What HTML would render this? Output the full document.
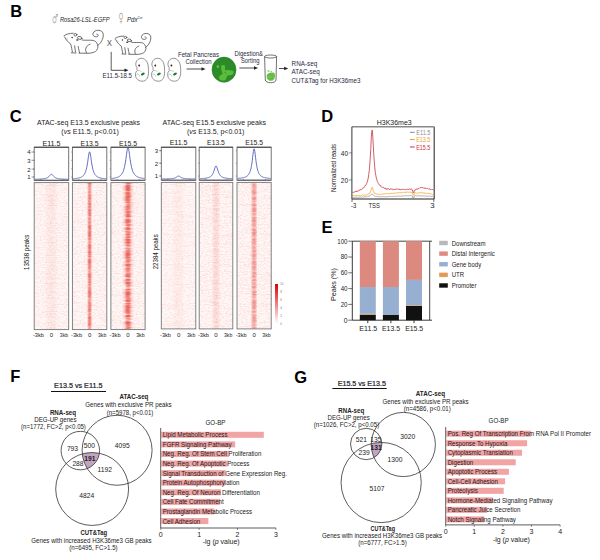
<!DOCTYPE html>
<html><head><meta charset="utf-8"><title>Figure</title>
<style>
html,body{margin:0;padding:0;background:#fff;}
body{width:600px;height:560px;overflow:hidden;}
svg{display:block;font-family:'Liberation Sans', Arial, sans-serif;}
</style></head><body>
<svg width="600" height="560" viewBox="0 0 600 560">
<rect width="600" height="560" fill="#fff"/>
<text x="10.3" y="17.2" font-size="16.5" font-weight="bold" fill="#000">B</text>
<text x="9.8" y="122.2" font-size="16.5" font-weight="bold" fill="#000">C</text>
<text x="321.2" y="122.2" font-size="16.5" font-weight="bold" fill="#000">D</text>
<text x="321.5" y="233.3" font-size="16.5" font-weight="bold" fill="#000">E</text>
<text x="10.2" y="382.4" font-size="16.5" font-weight="bold" fill="#000">F</text>
<text x="294.2" y="382.8" font-size="16.5" font-weight="bold" fill="#000">G</text>
<text transform="translate(51.9,22.6) scale(0.62,1.15)" font-family="'DejaVu Sans', sans-serif" font-size="11" fill="#aaa">♂</text>
<text x="59.9" y="22.4" font-size="8" font-style="italic" textLength="49.6" lengthAdjust="spacingAndGlyphs" fill="#222">Rosa26-LSL-EGFP</text>
<text transform="translate(118.6,22.1) scale(0.62,1.15)" font-family="'DejaVu Sans', sans-serif" font-size="11" fill="#aaa">♀</text>
<text x="127" y="22.4" font-size="8" font-style="italic" textLength="10.5" lengthAdjust="spacingAndGlyphs" fill="#222">Pdx</text>
<text x="137.6" y="19.2" font-size="4" font-style="italic" textLength="5" lengthAdjust="spacingAndGlyphs" fill="#222">Cre</text>
<g transform="translate(0,0) scale(1)" fill="none" stroke="#3c3c3c" stroke-width="0.72" stroke-linecap="round" stroke-linejoin="round">
<path d="M64,35.8 C66,34.2 69,33.3 73.3,33.2 M64.6,37 C66,40 68.5,42.5 70.8,44.2 C71.5,47 72,50 72.4,52 L71.4,52.8 L76,53 M74.6,45.8 C75,48 75.2,50 75.5,52 M82.1,40 C85,40.6 89,39.9 93.3,40.4 C96,41 97.6,43.5 97.9,46.7 C97.9,49 96.5,51.5 93.3,52.5 C91,53.2 89,53.3 86.5,53.3 L79,53.1 M86.6,53 C84.6,50 85.4,45.8 90,44.2 M78.2,46.5 C78.6,49 79,51 79.6,52.8 M97.9,45.4 C101,43 103.5,39 103.3,34.2 C103,31 99.5,29.8 96.7,30.4 C94,31 92.7,33 92.9,34.6 C93.2,36.5 96,37.5 97.5,36.5 C98.8,35.5 98,33.8 96.8,34 "/>
<ellipse cx="75.4" cy="34.7" rx="1.5" ry="1.2"/><ellipse cx="79.7" cy="37.9" rx="2.3" ry="1.4" transform="rotate(15 79.7 37.9)"/>
<circle cx="72.1" cy="37.5" r="0.75" fill="#222" stroke="none"/>
<ellipse cx="77.3" cy="40" rx="1.2" ry="0.8" fill="#333" stroke="none"/>
<path d="M66,38.5 L67.5,38.8 M66.3,40 L67.6,39.8" stroke="#999" stroke-width="0.4"/>
</g>
<g transform="translate(56.85999999999999,5.8969999999999985) scale(0.91)" fill="none" stroke="#3c3c3c" stroke-width="0.79" stroke-linecap="round" stroke-linejoin="round">
<path d="M64,35.8 C66,34.2 69,33.3 73.3,33.2 M64.6,37 C66,40 68.5,42.5 70.8,44.2 C71.5,47 72,50 72.4,52 L71.4,52.8 L76,53 M74.6,45.8 C75,48 75.2,50 75.5,52 M82.1,40 C85,40.6 89,39.9 93.3,40.4 C96,41 97.6,43.5 97.9,46.7 C97.9,49 96.5,51.5 93.3,52.5 C91,53.2 89,53.3 86.5,53.3 L79,53.1 M86.6,53 C84.6,50 85.4,45.8 90,44.2 M78.2,46.5 C78.6,49 79,51 79.6,52.8 M97.9,45.4 C101,43 103.5,39 103.3,34.2 C103,31 99.5,29.8 96.7,30.4 C94,31 92.7,33 92.9,34.6 C93.2,36.5 96,37.5 97.5,36.5 C98.8,35.5 98,33.8 96.8,34 "/>
<ellipse cx="75.4" cy="34.7" rx="1.5" ry="1.2"/><ellipse cx="79.7" cy="37.9" rx="2.3" ry="1.4" transform="rotate(15 79.7 37.9)"/>
<circle cx="72.1" cy="37.5" r="0.75" fill="#222" stroke="none"/>
<ellipse cx="77.3" cy="40" rx="1.2" ry="0.8" fill="#333" stroke="none"/>
<path d="M66,38.5 L67.5,38.8 M66.3,40 L67.6,39.8" stroke="#999" stroke-width="0.4"/>
</g>
<text x="106.8" y="46.2" font-size="9.6" textLength="5.2" lengthAdjust="spacingAndGlyphs" fill="#555">X</text>
<line x1="111.2" y1="51.9" x2="111.2" y2="70.3" stroke="#333" stroke-width="0.8"/>
<line x1="111.2" y1="70.3" x2="125.5" y2="70.3" stroke="#222" stroke-width="0.8"/>
<path d="M128.5,70.3 L124.5,68.5 L124.5,72.1 Z" fill="#222"/>
<text x="102.5" y="78.3" font-size="7" textLength="29.5" lengthAdjust="spacingAndGlyphs" fill="#2a2a40">E11.5-18.5</text>
<g transform="translate(0,0)">
<path d="M137.2,67.8 C135,66 135,60.5 139.5,58.6 C144,57 148,61 148.3,67 C148.8,73 148.8,78 145,80.6 C141,82.4 136.2,80 135.6,76 C135.2,73 136,71 137.6,70.4 C136.6,69.6 136.6,68.6 137.2,67.8 Z" fill="#fff" stroke="#666" stroke-width="0.7"/>
<path d="M137.6,70.4 C139,71 140.5,70.6 141.5,71.4 M136.5,74.5 C138,73.5 139.5,74.5 139.8,76.5" fill="none" stroke="#999" stroke-width="0.5"/>
<circle cx="139.2" cy="65.5" r="0.9" fill="#222"/>
<ellipse cx="142.8" cy="74" rx="2.1" ry="1.1" transform="rotate(-30 142.8 74)" fill="#1c7a2c"/>
</g>
<g transform="translate(16.1,0)">
<path d="M137.2,67.8 C135,66 135,60.5 139.5,58.6 C144,57 148,61 148.3,67 C148.8,73 148.8,78 145,80.6 C141,82.4 136.2,80 135.6,76 C135.2,73 136,71 137.6,70.4 C136.6,69.6 136.6,68.6 137.2,67.8 Z" fill="#fff" stroke="#666" stroke-width="0.7"/>
<path d="M137.6,70.4 C139,71 140.5,70.6 141.5,71.4 M136.5,74.5 C138,73.5 139.5,74.5 139.8,76.5" fill="none" stroke="#999" stroke-width="0.5"/>
<circle cx="139.2" cy="65.5" r="0.9" fill="#222"/>
<ellipse cx="142.8" cy="74" rx="2.1" ry="1.1" transform="rotate(-30 142.8 74)" fill="#1c7a2c"/>
</g>
<g transform="translate(32.2,0)">
<path d="M137.2,67.8 C135,66 135,60.5 139.5,58.6 C144,57 148,61 148.3,67 C148.8,73 148.8,78 145,80.6 C141,82.4 136.2,80 135.6,76 C135.2,73 136,71 137.6,70.4 C136.6,69.6 136.6,68.6 137.2,67.8 Z" fill="#fff" stroke="#666" stroke-width="0.7"/>
<path d="M137.6,70.4 C139,71 140.5,70.6 141.5,71.4 M136.5,74.5 C138,73.5 139.5,74.5 139.8,76.5" fill="none" stroke="#999" stroke-width="0.5"/>
<circle cx="139.2" cy="65.5" r="0.9" fill="#222"/>
<ellipse cx="142.8" cy="74" rx="2.1" ry="1.1" transform="rotate(-30 142.8 74)" fill="#1c7a2c"/>
</g>
<text x="198.5" y="56.6" font-size="7.6" text-anchor="middle" textLength="41" lengthAdjust="spacingAndGlyphs" fill="#2a2a40">Fetal Pancreas</text>
<text x="198.5" y="63.8" font-size="7.6" text-anchor="middle" textLength="26.2" lengthAdjust="spacingAndGlyphs" fill="#2a2a40">Collection</text>
<line x1="186.6" y1="69" x2="202.5" y2="69" stroke="#222" stroke-width="0.8"/>
<path d="M205.5,69 L201.5,67.2 L201.5,70.8 Z" fill="#222"/>
<ellipse cx="224" cy="69.7" rx="12" ry="12.6" fill="#2c8a28" stroke="#23701f" stroke-width="0.5"/>
<path d="M221.3,66 C222,64.6 224.5,64.6 225,66 C225.4,67.5 224.6,69 225.2,70.3 C226.5,70 228,69.6 229.5,70.2 C231,70.5 232.5,70.2 233.6,71.5 C234,73 233,74.5 231.5,75 C230,75.6 228.5,75.2 227.2,75.6 C227,77 226.5,79 225,80.2 C223.5,81 221,80.8 219.8,79.6 C218.6,78.2 219,76.5 220,75.6 C221,74.6 222.2,74.6 222.6,73.5 C222.3,72 221.3,70.5 221.2,69 C221,68 221,67 221.3,66 Z" fill="#58bd3a"/>
<path d="M216.6,66.2 C217,64.8 218.8,64.6 219.2,65.8 C219.5,67 218.8,68.3 217.8,68.3 C216.8,68.2 216.4,67.2 216.6,66.2 Z" fill="#58bd3a"/>
<path d="M224.6,72 C225.5,71.6 226.5,72.3 226.2,73.3 C225.6,74 224.6,73.6 224.6,72 Z" fill="#3a9a30"/>
<text x="248.7" y="56.0" font-size="7.6" text-anchor="middle" textLength="28.6" lengthAdjust="spacingAndGlyphs" fill="#2a2a40">Digestion&amp;</text>
<text x="250.2" y="63.3" font-size="7.6" text-anchor="middle" textLength="18.4" lengthAdjust="spacingAndGlyphs" fill="#2a2a40">Sorting</text>
<line x1="239.4" y1="68" x2="255" y2="68" stroke="#222" stroke-width="0.8"/>
<path d="M258,68 L254,66.2 L254,69.8 Z" fill="#222"/>
<path d="M264.6,56.5 L265.3,80 C265.5,83.6 275.8,83.6 276,80 L276.6,56.5" fill="#fff" stroke="#333" stroke-width="0.7"/>
<ellipse cx="270.6" cy="56.5" rx="6" ry="1.5" fill="#fff" stroke="#333" stroke-width="0.7"/>
<path d="M267,74.5 C268.5,72.6 272,72 274.5,73 C275.5,75 275.2,78.5 273.5,80 C271.5,81.5 268.5,81 267.3,79 C266.4,77.5 266.5,75.5 267,74.5 Z" fill="#6cc24a"/>
<path d="M268.5,75 C270,74 272,74.5 273,76 M269,78.5 C270.5,79 272,78.6 273,77.6" stroke="#4e9f32" stroke-width="0.5" fill="none"/>
<rect x="267.6" y="70.4" width="1.8" height="1.3" fill="#6cc24a"/><rect x="270.5" y="71.2" width="1.4" height="1" fill="#6cc24a"/>
<line x1="279" y1="68.5" x2="285.2" y2="68.5" stroke="#222" stroke-width="0.8"/>
<path d="M288.2,68.5 L284.2,66.7 L284.2,70.3 Z" fill="#222"/>
<text x="291.6" y="65.6" font-size="7" textLength="25.56" lengthAdjust="spacingAndGlyphs" fill="#2a2a40">RNA-seq</text>
<text x="291.6" y="74.2" font-size="7" textLength="28.12" lengthAdjust="spacingAndGlyphs" fill="#2a2a40">ATAC-seq</text>
<text x="291.6" y="83.0" font-size="7" textLength="68.8" lengthAdjust="spacingAndGlyphs" fill="#2a2a40">CUT&amp;Tag for H3K36me3</text>
<defs>
<filter id="nz" x="0" y="0" width="100%" height="100%">
 <feTurbulence type="fractalNoise" baseFrequency="0.5 0.9" numOctaves="1" seed="3" result="n"/>
 <feColorMatrix type="matrix" values="0 0 0 0 0.93  0 0 0 0 0.42  0 0 0 0 0.4  0 0 0 -3.6 1.95"/>
</filter>
<filter id="nz2" x="0" y="0" width="100%" height="100%">
 <feTurbulence type="fractalNoise" baseFrequency="0.05 0.7" numOctaves="2" seed="5" result="n"/>
 <feColorMatrix type="matrix" values="0 0 0 0 0.93  0 0 0 0 0.45  0 0 0 0 0.43  0 0 0 -3.0 1.55"/>
</filter>
<filter id="bandf" x="0" y="0" width="100%" height="100%">
 <feTurbulence type="fractalNoise" baseFrequency="0.06 0.45" numOctaves="2" seed="11" result="n"/>
 <feColorMatrix in="n" type="matrix" values="0 0 0 0 0  0 0 0 0 0  0 0 0 0 0  0 0 0 3.0 -0.9" result="m"/>
 <feComposite in="SourceGraphic" in2="m" operator="in"/>
</filter>
<linearGradient id="cb" x1="0" y1="0" x2="0" y2="1"><stop offset="0" stop-color="#e00000"/><stop offset="1" stop-color="#fff"/></linearGradient>
</defs>
<text x="37" y="124.8" font-size="7.8" textLength="103" lengthAdjust="spacingAndGlyphs" fill="#222">ATAC-seq E13.5 exclusive peaks</text>
<text x="61.3" y="133.5" font-size="7.7" fill="#222" textLength="57.5" lengthAdjust="spacingAndGlyphs">(<tspan font-style="italic">vs</tspan> E11.5, p&lt;0.01)</text>
<text x="162.6" y="125.0" font-size="7.8" textLength="103.4" lengthAdjust="spacingAndGlyphs" fill="#222">ATAC-seq E15.5 exclusive peaks</text>
<text x="187" y="134" font-size="7.7" fill="#222" textLength="57.4" lengthAdjust="spacingAndGlyphs">(<tspan font-style="italic">vs</tspan> E13.5, p&lt;0.01)</text>
<text x="51.45" y="145.5" font-size="7.8" text-anchor="middle" textLength="18" lengthAdjust="spacingAndGlyphs" fill="#222">E11.5</text>
<text x="89.6" y="145.5" font-size="7.8" text-anchor="middle" textLength="18" lengthAdjust="spacingAndGlyphs" fill="#222">E13.5</text>
<text x="128.0" y="145.5" font-size="7.8" text-anchor="middle" textLength="18" lengthAdjust="spacingAndGlyphs" fill="#222">E15.5</text>
<text x="178.55" y="145.0" font-size="7.8" text-anchor="middle" textLength="17.8" lengthAdjust="spacingAndGlyphs" fill="#222">E11.5</text>
<text x="216.0" y="145.0" font-size="7.8" text-anchor="middle" textLength="17.8" lengthAdjust="spacingAndGlyphs" fill="#222">E13.5</text>
<text x="254.1" y="145.0" font-size="7.8" text-anchor="middle" textLength="17.8" lengthAdjust="spacingAndGlyphs" fill="#222">E15.5</text>
<rect x="34.2" y="147.2" width="34.5" height="33.10000000000002" fill="#fff" stroke="#666" stroke-width="0.9"/>
<line x1="34.2" y1="147.2" x2="68.7" y2="147.2" stroke="#444" stroke-width="1.1"/>
<line x1="34.2" y1="180.3" x2="68.7" y2="180.3" stroke="#555" stroke-width="0.9"/>
<polyline points="34.80,179.26 35.17,179.25 35.54,179.24 35.91,179.24 36.28,179.23 36.65,179.22 37.02,179.21 37.39,179.20 37.76,179.19 38.13,179.18 38.50,179.17 38.87,179.15 39.24,179.14 39.61,179.12 39.98,179.11 40.35,179.09 40.72,179.07 41.09,179.05 41.46,179.02 41.83,178.99 42.20,178.96 42.57,178.93 42.94,178.89 43.31,178.85 43.68,178.80 44.05,178.75 44.42,178.69 44.79,178.62 45.16,178.54 45.53,178.45 45.90,178.34 46.27,178.22 46.64,178.08 47.01,177.92 47.38,177.73 47.75,177.51 48.12,177.25 48.49,176.94 48.86,176.60 49.23,176.21 49.60,175.78 49.97,175.34 50.34,174.91 50.71,174.54 51.08,174.29 51.45,174.20 51.82,174.29 52.19,174.54 52.56,174.91 52.93,175.34 53.30,175.78 53.67,176.21 54.04,176.60 54.41,176.94 54.78,177.25 55.15,177.51 55.52,177.73 55.89,177.92 56.26,178.08 56.63,178.22 57.00,178.34 57.37,178.45 57.74,178.54 58.11,178.62 58.48,178.69 58.85,178.75 59.22,178.80 59.59,178.85 59.96,178.89 60.33,178.93 60.70,178.96 61.07,178.99 61.44,179.02 61.81,179.05 62.18,179.07 62.55,179.09 62.92,179.11 63.29,179.12 63.66,179.14 64.03,179.15 64.40,179.17 64.77,179.18 65.14,179.19 65.51,179.20 65.88,179.21 66.25,179.22 66.62,179.23 66.99,179.24 67.36,179.24 67.73,179.25 68.10,179.26" fill="none" stroke="#4c54b4" stroke-width="0.85"/>
<line x1="40.755" y1="180.3" x2="40.755" y2="179.10000000000002" stroke="#555" stroke-width="0.5"/>
<line x1="62.835" y1="180.3" x2="62.835" y2="179.10000000000002" stroke="#555" stroke-width="0.5"/>
<line x1="33.0" y1="152" x2="34.2" y2="152" stroke="#555" stroke-width="0.5"/>
<line x1="33.0" y1="160.3" x2="34.2" y2="160.3" stroke="#555" stroke-width="0.5"/>
<line x1="33.0" y1="168.8" x2="34.2" y2="168.8" stroke="#555" stroke-width="0.5"/>
<line x1="33.0" y1="177" x2="34.2" y2="177" stroke="#555" stroke-width="0.5"/>
<rect x="72.4" y="147.2" width="34.39999999999999" height="33.10000000000002" fill="#fff" stroke="#666" stroke-width="0.9"/>
<line x1="72.4" y1="147.2" x2="106.8" y2="147.2" stroke="#444" stroke-width="1.1"/>
<line x1="72.4" y1="180.3" x2="106.8" y2="180.3" stroke="#555" stroke-width="0.9"/>
<polyline points="73.00,178.79 73.37,178.76 73.74,178.73 74.11,178.70 74.48,178.67 74.84,178.63 75.21,178.59 75.58,178.55 75.95,178.50 76.32,178.46 76.69,178.40 77.06,178.35 77.43,178.28 77.80,178.22 78.16,178.14 78.53,178.06 78.90,177.97 79.27,177.87 79.64,177.76 80.01,177.64 80.38,177.51 80.75,177.36 81.12,177.20 81.48,177.01 81.85,176.80 82.22,176.56 82.59,176.28 82.96,175.97 83.33,175.62 83.70,175.20 84.07,174.72 84.44,174.16 84.80,173.50 85.17,172.73 85.54,171.81 85.91,170.71 86.28,169.41 86.65,167.87 87.02,166.05 87.39,163.93 87.76,161.53 88.12,158.93 88.49,156.32 88.86,154.01 89.23,152.39 89.60,151.80 89.97,152.39 90.34,154.01 90.71,156.32 91.08,158.93 91.44,161.53 91.81,163.93 92.18,166.05 92.55,167.87 92.92,169.41 93.29,170.71 93.66,171.81 94.03,172.73 94.40,173.50 94.76,174.16 95.13,174.72 95.50,175.20 95.87,175.62 96.24,175.97 96.61,176.28 96.98,176.56 97.35,176.80 97.72,177.01 98.08,177.20 98.45,177.36 98.82,177.51 99.19,177.64 99.56,177.76 99.93,177.87 100.30,177.97 100.67,178.06 101.04,178.14 101.40,178.22 101.77,178.28 102.14,178.35 102.51,178.40 102.88,178.46 103.25,178.50 103.62,178.55 103.99,178.59 104.36,178.63 104.72,178.67 105.09,178.70 105.46,178.73 105.83,178.76 106.20,178.79" fill="none" stroke="#4c54b4" stroke-width="0.85"/>
<line x1="78.936" y1="180.3" x2="78.936" y2="179.10000000000002" stroke="#555" stroke-width="0.5"/>
<line x1="100.952" y1="180.3" x2="100.952" y2="179.10000000000002" stroke="#555" stroke-width="0.5"/>
<line x1="71.2" y1="152" x2="72.4" y2="152" stroke="#555" stroke-width="0.5"/>
<line x1="71.2" y1="160.3" x2="72.4" y2="160.3" stroke="#555" stroke-width="0.5"/>
<line x1="71.2" y1="168.8" x2="72.4" y2="168.8" stroke="#555" stroke-width="0.5"/>
<line x1="71.2" y1="177" x2="72.4" y2="177" stroke="#555" stroke-width="0.5"/>
<rect x="110.9" y="147.2" width="34.19999999999999" height="33.10000000000002" fill="#fff" stroke="#666" stroke-width="0.9"/>
<line x1="110.9" y1="147.2" x2="145.1" y2="147.2" stroke="#444" stroke-width="1.1"/>
<line x1="110.9" y1="180.3" x2="145.1" y2="180.3" stroke="#555" stroke-width="0.9"/>
<polyline points="111.50,178.51 111.87,178.47 112.23,178.43 112.60,178.38 112.97,178.33 113.33,178.28 113.70,178.23 114.07,178.17 114.43,178.10 114.80,178.03 115.17,177.96 115.53,177.87 115.90,177.78 116.27,177.69 116.63,177.58 117.00,177.46 117.37,177.34 117.73,177.20 118.10,177.04 118.47,176.87 118.83,176.69 119.20,176.48 119.57,176.24 119.93,175.98 120.30,175.69 120.67,175.35 121.03,174.98 121.40,174.55 121.77,174.06 122.13,173.50 122.50,172.85 122.87,172.11 123.23,171.24 123.60,170.23 123.97,169.06 124.33,167.69 124.70,166.09 125.07,164.24 125.43,162.12 125.80,159.74 126.17,157.14 126.53,154.45 126.90,151.85 127.27,149.64 127.63,148.14 128.00,147.60 128.37,148.14 128.73,149.64 129.10,151.85 129.47,154.45 129.83,157.14 130.20,159.74 130.57,162.12 130.93,164.24 131.30,166.09 131.67,167.69 132.03,169.06 132.40,170.23 132.77,171.24 133.13,172.11 133.50,172.85 133.87,173.50 134.23,174.06 134.60,174.55 134.97,174.98 135.33,175.35 135.70,175.69 136.07,175.98 136.43,176.24 136.80,176.48 137.17,176.69 137.53,176.87 137.90,177.04 138.27,177.20 138.63,177.34 139.00,177.46 139.37,177.58 139.73,177.69 140.10,177.78 140.47,177.87 140.83,177.96 141.20,178.03 141.57,178.10 141.93,178.17 142.30,178.23 142.67,178.28 143.03,178.33 143.40,178.38 143.77,178.43 144.13,178.47 144.50,178.51" fill="none" stroke="#4c54b4" stroke-width="0.85"/>
<line x1="117.398" y1="180.3" x2="117.398" y2="179.10000000000002" stroke="#555" stroke-width="0.5"/>
<line x1="139.286" y1="180.3" x2="139.286" y2="179.10000000000002" stroke="#555" stroke-width="0.5"/>
<line x1="109.7" y1="152" x2="110.9" y2="152" stroke="#555" stroke-width="0.5"/>
<line x1="109.7" y1="160.3" x2="110.9" y2="160.3" stroke="#555" stroke-width="0.5"/>
<line x1="109.7" y1="168.8" x2="110.9" y2="168.8" stroke="#555" stroke-width="0.5"/>
<line x1="109.7" y1="177" x2="110.9" y2="177" stroke="#555" stroke-width="0.5"/>
<rect x="161.3" y="147.2" width="34.5" height="33.0" fill="#fff" stroke="#666" stroke-width="0.9"/>
<line x1="161.3" y1="147.2" x2="195.8" y2="147.2" stroke="#444" stroke-width="1.1"/>
<line x1="161.3" y1="180.2" x2="195.8" y2="180.2" stroke="#555" stroke-width="0.9"/>
<polyline points="161.90,178.93 162.27,178.93 162.64,178.92 163.01,178.92 163.38,178.91 163.75,178.91 164.12,178.91 164.49,178.90 164.86,178.90 165.23,178.89 165.60,178.88 165.97,178.88 166.34,178.87 166.71,178.86 167.08,178.85 167.45,178.84 167.82,178.83 168.19,178.82 168.56,178.81 168.93,178.80 169.30,178.78 169.67,178.76 170.04,178.74 170.41,178.72 170.78,178.70 171.15,178.67 171.52,178.64 171.89,178.60 172.26,178.56 172.63,178.51 173.00,178.46 173.37,178.40 173.74,178.32 174.11,178.23 174.48,178.13 174.85,178.01 175.22,177.86 175.59,177.69 175.96,177.49 176.33,177.26 176.70,177.01 177.07,176.73 177.44,176.46 177.81,176.22 178.18,176.06 178.55,176.00 178.92,176.06 179.29,176.22 179.66,176.46 180.03,176.73 180.40,177.01 180.77,177.26 181.14,177.49 181.51,177.69 181.88,177.86 182.25,178.01 182.62,178.13 182.99,178.23 183.36,178.32 183.73,178.40 184.10,178.46 184.47,178.51 184.84,178.56 185.21,178.60 185.58,178.64 185.95,178.67 186.32,178.70 186.69,178.72 187.06,178.74 187.43,178.76 187.80,178.78 188.17,178.80 188.54,178.81 188.91,178.82 189.28,178.83 189.65,178.84 190.02,178.85 190.39,178.86 190.76,178.87 191.13,178.88 191.50,178.88 191.87,178.89 192.24,178.90 192.61,178.90 192.98,178.91 193.35,178.91 193.72,178.91 194.09,178.92 194.46,178.92 194.83,178.93 195.20,178.93" fill="none" stroke="#4c54b4" stroke-width="0.85"/>
<line x1="167.85500000000002" y1="180.2" x2="167.85500000000002" y2="179.0" stroke="#555" stroke-width="0.5"/>
<line x1="189.935" y1="180.2" x2="189.935" y2="179.0" stroke="#555" stroke-width="0.5"/>
<line x1="160.10000000000002" y1="150.7" x2="161.3" y2="150.7" stroke="#555" stroke-width="0.5"/>
<line x1="160.10000000000002" y1="163.2" x2="161.3" y2="163.2" stroke="#555" stroke-width="0.5"/>
<line x1="160.10000000000002" y1="176" x2="161.3" y2="176" stroke="#555" stroke-width="0.5"/>
<rect x="199.2" y="147.2" width="33.60000000000002" height="33.0" fill="#fff" stroke="#666" stroke-width="0.9"/>
<line x1="199.2" y1="147.2" x2="232.8" y2="147.2" stroke="#444" stroke-width="1.1"/>
<line x1="199.2" y1="180.2" x2="232.8" y2="180.2" stroke="#555" stroke-width="0.9"/>
<polyline points="199.80,178.67 200.16,178.66 200.52,178.64 200.88,178.62 201.24,178.61 201.60,178.59 201.96,178.57 202.32,178.54 202.68,178.52 203.04,178.49 203.40,178.46 203.76,178.43 204.12,178.40 204.48,178.37 204.84,178.33 205.20,178.28 205.56,178.23 205.92,178.18 206.28,178.13 206.64,178.06 207.00,177.99 207.36,177.91 207.72,177.82 208.08,177.73 208.44,177.61 208.80,177.49 209.16,177.35 209.52,177.18 209.88,177.00 210.24,176.78 210.60,176.53 210.96,176.25 211.32,175.91 211.68,175.52 212.04,175.05 212.40,174.51 212.76,173.87 213.12,173.12 213.48,172.25 213.84,171.25 214.20,170.14 214.56,168.98 214.92,167.83 215.28,166.83 215.64,166.15 216.00,165.90 216.36,166.15 216.72,166.83 217.08,167.83 217.44,168.98 217.80,170.14 218.16,171.25 218.52,172.25 218.88,173.12 219.24,173.87 219.60,174.51 219.96,175.05 220.32,175.52 220.68,175.91 221.04,176.25 221.40,176.53 221.76,176.78 222.12,177.00 222.48,177.18 222.84,177.35 223.20,177.49 223.56,177.61 223.92,177.73 224.28,177.82 224.64,177.91 225.00,177.99 225.36,178.06 225.72,178.13 226.08,178.18 226.44,178.23 226.80,178.28 227.16,178.33 227.52,178.37 227.88,178.40 228.24,178.43 228.60,178.46 228.96,178.49 229.32,178.52 229.68,178.54 230.04,178.57 230.40,178.59 230.76,178.61 231.12,178.62 231.48,178.64 231.84,178.66 232.20,178.67" fill="none" stroke="#4c54b4" stroke-width="0.85"/>
<line x1="205.584" y1="180.2" x2="205.584" y2="179.0" stroke="#555" stroke-width="0.5"/>
<line x1="227.088" y1="180.2" x2="227.088" y2="179.0" stroke="#555" stroke-width="0.5"/>
<line x1="198.0" y1="150.7" x2="199.2" y2="150.7" stroke="#555" stroke-width="0.5"/>
<line x1="198.0" y1="163.2" x2="199.2" y2="163.2" stroke="#555" stroke-width="0.5"/>
<line x1="198.0" y1="176" x2="199.2" y2="176" stroke="#555" stroke-width="0.5"/>
<rect x="237" y="147.2" width="34.19999999999999" height="33.0" fill="#fff" stroke="#666" stroke-width="0.9"/>
<line x1="237" y1="147.2" x2="271.2" y2="147.2" stroke="#444" stroke-width="1.1"/>
<line x1="237" y1="180.2" x2="271.2" y2="180.2" stroke="#555" stroke-width="0.9"/>
<polyline points="237.60,178.42 237.97,178.40 238.33,178.37 238.70,178.34 239.07,178.31 239.43,178.28 239.80,178.24 240.17,178.20 240.53,178.16 240.90,178.11 241.27,178.06 241.63,178.01 242.00,177.95 242.37,177.88 242.73,177.81 243.10,177.73 243.47,177.65 243.83,177.56 244.20,177.45 244.57,177.34 244.93,177.21 245.30,177.07 245.67,176.91 246.03,176.73 246.40,176.53 246.77,176.30 247.13,176.03 247.50,175.73 247.87,175.38 248.23,174.98 248.60,174.50 248.97,173.95 249.33,173.30 249.70,172.52 250.07,171.59 250.43,170.47 250.80,169.13 251.17,167.50 251.53,165.55 251.90,163.23 252.27,160.53 252.63,157.53 253.00,154.42 253.37,151.59 253.73,149.55 254.10,148.80 254.47,149.55 254.83,151.59 255.20,154.42 255.57,157.53 255.93,160.53 256.30,163.23 256.67,165.55 257.03,167.50 257.40,169.13 257.77,170.47 258.13,171.59 258.50,172.52 258.87,173.30 259.23,173.95 259.60,174.50 259.97,174.98 260.33,175.38 260.70,175.73 261.07,176.03 261.43,176.30 261.80,176.53 262.17,176.73 262.53,176.91 262.90,177.07 263.27,177.21 263.63,177.34 264.00,177.45 264.37,177.56 264.73,177.65 265.10,177.73 265.47,177.81 265.83,177.88 266.20,177.95 266.57,178.01 266.93,178.06 267.30,178.11 267.67,178.16 268.03,178.20 268.40,178.24 268.77,178.28 269.13,178.31 269.50,178.34 269.87,178.37 270.23,178.40 270.60,178.42" fill="none" stroke="#4c54b4" stroke-width="0.85"/>
<line x1="243.498" y1="180.2" x2="243.498" y2="179.0" stroke="#555" stroke-width="0.5"/>
<line x1="265.38599999999997" y1="180.2" x2="265.38599999999997" y2="179.0" stroke="#555" stroke-width="0.5"/>
<line x1="235.8" y1="150.7" x2="237" y2="150.7" stroke="#555" stroke-width="0.5"/>
<line x1="235.8" y1="163.2" x2="237" y2="163.2" stroke="#555" stroke-width="0.5"/>
<line x1="235.8" y1="176" x2="237" y2="176" stroke="#555" stroke-width="0.5"/>
<text x="30.5" y="154.3" font-size="6" text-anchor="end" fill="#222">4</text>
<line x1="31.5" y1="152" x2="34.2" y2="152" stroke="#444" stroke-width="0.5"/>
<text x="30.5" y="162.60000000000002" font-size="6" text-anchor="end" fill="#222">3</text>
<line x1="31.5" y1="160.3" x2="34.2" y2="160.3" stroke="#444" stroke-width="0.5"/>
<text x="30.5" y="171.5" font-size="6" text-anchor="end" fill="#222">2</text>
<line x1="31.5" y1="169.2" x2="34.2" y2="169.2" stroke="#444" stroke-width="0.5"/>
<text x="30.5" y="179.3" font-size="6" text-anchor="end" fill="#222">1</text>
<line x1="31.5" y1="177" x2="34.2" y2="177" stroke="#444" stroke-width="0.5"/>
<text x="158.0" y="153.0" font-size="6" text-anchor="end" fill="#222">3</text>
<line x1="158.8" y1="150.7" x2="161.3" y2="150.7" stroke="#444" stroke-width="0.5"/>
<text x="158.0" y="165.5" font-size="6" text-anchor="end" fill="#222">2</text>
<line x1="158.8" y1="163.2" x2="161.3" y2="163.2" stroke="#444" stroke-width="0.5"/>
<text x="158.0" y="178.3" font-size="6" text-anchor="end" fill="#222">1</text>
<line x1="158.8" y1="176" x2="161.3" y2="176" stroke="#444" stroke-width="0.5"/>
<linearGradient id="hg1" x1="34.2" y1="0" x2="68.7" y2="0" gradientUnits="userSpaceOnUse"><stop offset="0.000" stop-color="#e84a40" stop-opacity="0.00"/><stop offset="0.309" stop-color="#e84a40" stop-opacity="0.00"/><stop offset="0.413" stop-color="#e84a40" stop-opacity="0.04"/><stop offset="0.500" stop-color="#e84a40" stop-opacity="0.06"/><stop offset="0.587" stop-color="#e84a40" stop-opacity="0.04"/><stop offset="0.691" stop-color="#e84a40" stop-opacity="0.00"/><stop offset="1.000" stop-color="#e84a40" stop-opacity="0.00"/></linearGradient>
<rect x="34.2" y="182.6" width="34.5" height="147.00000000000003" fill="#fef8f7"/>
<rect x="34.2" y="182.6" width="34.5" height="147.00000000000003" filter="url(#nz)" opacity="0.30"/>
<rect x="34.2" y="182.6" width="34.5" height="147.00000000000003" filter="url(#nz2)" opacity="0.18"/>
<rect x="34.2" y="182.6" width="34.5" height="147.00000000000003" fill="url(#hg1)" opacity="0.7"/>
<rect x="34.2" y="182.6" width="34.5" height="147.00000000000003" fill="url(#hg1)" filter="url(#bandf)"/>
<rect x="34.2" y="182.6" width="34.5" height="147.00000000000003" fill="none" stroke="#777" stroke-width="0.9"/>
<linearGradient id="hg2" x1="72.4" y1="0" x2="106.8" y2="0" gradientUnits="userSpaceOnUse"><stop offset="0.000" stop-color="#e84a40" stop-opacity="0.00"/><stop offset="0.427" stop-color="#e84a40" stop-opacity="0.00"/><stop offset="0.471" stop-color="#e84a40" stop-opacity="0.41"/><stop offset="0.500" stop-color="#e84a40" stop-opacity="0.55"/><stop offset="0.529" stop-color="#e84a40" stop-opacity="0.41"/><stop offset="0.573" stop-color="#e84a40" stop-opacity="0.00"/><stop offset="1.000" stop-color="#e84a40" stop-opacity="0.00"/></linearGradient>
<rect x="72.4" y="182.6" width="34.39999999999999" height="147.00000000000003" fill="#fef8f7"/>
<rect x="72.4" y="182.6" width="34.39999999999999" height="147.00000000000003" filter="url(#nz)" opacity="0.32"/>
<rect x="72.4" y="182.6" width="34.39999999999999" height="147.00000000000003" filter="url(#nz2)" opacity="0.19"/>
<rect x="72.4" y="182.6" width="34.39999999999999" height="147.00000000000003" fill="url(#hg2)" opacity="0.9"/>
<rect x="72.4" y="182.6" width="34.39999999999999" height="147.00000000000003" fill="url(#hg2)" filter="url(#bandf)"/>
<rect x="72.4" y="182.6" width="34.39999999999999" height="147.00000000000003" fill="none" stroke="#777" stroke-width="0.9"/>
<linearGradient id="hg3" x1="110.9" y1="0" x2="145.1" y2="0" gradientUnits="userSpaceOnUse"><stop offset="0.000" stop-color="#e84a40" stop-opacity="0.00"/><stop offset="0.395" stop-color="#e84a40" stop-opacity="0.00"/><stop offset="0.465" stop-color="#e84a40" stop-opacity="0.54"/><stop offset="0.500" stop-color="#e84a40" stop-opacity="0.72"/><stop offset="0.535" stop-color="#e84a40" stop-opacity="0.54"/><stop offset="0.605" stop-color="#e84a40" stop-opacity="0.00"/><stop offset="1.000" stop-color="#e84a40" stop-opacity="0.00"/></linearGradient>
<rect x="110.9" y="182.6" width="34.19999999999999" height="147.00000000000003" fill="#fef8f7"/>
<rect x="110.9" y="182.6" width="34.19999999999999" height="147.00000000000003" filter="url(#nz)" opacity="0.30"/>
<rect x="110.9" y="182.6" width="34.19999999999999" height="147.00000000000003" filter="url(#nz2)" opacity="0.18"/>
<linearGradient id="hs3" x1="110.9" y1="0" x2="145.1" y2="0" gradientUnits="userSpaceOnUse"><stop offset="0.000" stop-color="#e84a40" stop-opacity="0.00"/><stop offset="0.320" stop-color="#e84a40" stop-opacity="0.00"/><stop offset="0.388" stop-color="#e84a40" stop-opacity="0.24"/><stop offset="0.500" stop-color="#e84a40" stop-opacity="0.32"/><stop offset="0.612" stop-color="#e84a40" stop-opacity="0.24"/><stop offset="0.680" stop-color="#e84a40" stop-opacity="0.00"/><stop offset="1.000" stop-color="#e84a40" stop-opacity="0.00"/></linearGradient>
<rect x="110.9" y="182.6" width="34.19999999999999" height="147.00000000000003" fill="url(#hs3)" filter="url(#bandf)"/>
<rect x="110.9" y="182.6" width="34.19999999999999" height="147.00000000000003" fill="url(#hg3)" opacity="0.55"/>
<rect x="110.9" y="182.6" width="34.19999999999999" height="147.00000000000003" fill="url(#hg3)" filter="url(#bandf)"/>
<rect x="110.9" y="182.6" width="34.19999999999999" height="147.00000000000003" fill="none" stroke="#777" stroke-width="0.9"/>
<linearGradient id="hg4" x1="161.3" y1="0" x2="195.8" y2="0" gradientUnits="userSpaceOnUse"><stop offset="0.000" stop-color="#e84a40" stop-opacity="0.00"/><stop offset="0.309" stop-color="#e84a40" stop-opacity="0.00"/><stop offset="0.413" stop-color="#e84a40" stop-opacity="0.03"/><stop offset="0.500" stop-color="#e84a40" stop-opacity="0.04"/><stop offset="0.587" stop-color="#e84a40" stop-opacity="0.03"/><stop offset="0.691" stop-color="#e84a40" stop-opacity="0.00"/><stop offset="1.000" stop-color="#e84a40" stop-opacity="0.00"/></linearGradient>
<rect x="161.3" y="182.4" width="34.5" height="146.49999999999997" fill="#fef8f7"/>
<rect x="161.3" y="182.4" width="34.5" height="146.49999999999997" filter="url(#nz)" opacity="0.26"/>
<rect x="161.3" y="182.4" width="34.5" height="146.49999999999997" filter="url(#nz2)" opacity="0.16"/>
<rect x="161.3" y="182.4" width="34.5" height="146.49999999999997" fill="url(#hg4)" opacity="0.7"/>
<rect x="161.3" y="182.4" width="34.5" height="146.49999999999997" fill="url(#hg4)" filter="url(#bandf)"/>
<rect x="161.3" y="182.4" width="34.5" height="146.49999999999997" fill="none" stroke="#777" stroke-width="0.9"/>
<linearGradient id="hg5" x1="199.2" y1="0" x2="232.8" y2="0" gradientUnits="userSpaceOnUse"><stop offset="0.000" stop-color="#e84a40" stop-opacity="0.00"/><stop offset="0.369" stop-color="#e84a40" stop-opacity="0.00"/><stop offset="0.440" stop-color="#e84a40" stop-opacity="0.09"/><stop offset="0.500" stop-color="#e84a40" stop-opacity="0.12"/><stop offset="0.560" stop-color="#e84a40" stop-opacity="0.09"/><stop offset="0.631" stop-color="#e84a40" stop-opacity="0.00"/><stop offset="1.000" stop-color="#e84a40" stop-opacity="0.00"/></linearGradient>
<rect x="199.2" y="182.4" width="33.60000000000002" height="146.49999999999997" fill="#fef8f7"/>
<rect x="199.2" y="182.4" width="33.60000000000002" height="146.49999999999997" filter="url(#nz)" opacity="0.32"/>
<rect x="199.2" y="182.4" width="33.60000000000002" height="146.49999999999997" filter="url(#nz2)" opacity="0.19"/>
<rect x="199.2" y="182.4" width="33.60000000000002" height="146.49999999999997" fill="url(#hg5)" opacity="0.7"/>
<rect x="199.2" y="182.4" width="33.60000000000002" height="146.49999999999997" fill="url(#hg5)" filter="url(#bandf)"/>
<rect x="199.2" y="182.4" width="33.60000000000002" height="146.49999999999997" fill="none" stroke="#777" stroke-width="0.9"/>
<linearGradient id="hg6" x1="237" y1="0" x2="271.2" y2="0" gradientUnits="userSpaceOnUse"><stop offset="0.000" stop-color="#e84a40" stop-opacity="0.00"/><stop offset="0.401" stop-color="#e84a40" stop-opacity="0.00"/><stop offset="0.462" stop-color="#e84a40" stop-opacity="0.32"/><stop offset="0.500" stop-color="#e84a40" stop-opacity="0.42"/><stop offset="0.538" stop-color="#e84a40" stop-opacity="0.32"/><stop offset="0.599" stop-color="#e84a40" stop-opacity="0.00"/><stop offset="1.000" stop-color="#e84a40" stop-opacity="0.00"/></linearGradient>
<rect x="237" y="182.4" width="34.19999999999999" height="146.49999999999997" fill="#fef8f7"/>
<rect x="237" y="182.4" width="34.19999999999999" height="146.49999999999997" filter="url(#nz)" opacity="0.32"/>
<rect x="237" y="182.4" width="34.19999999999999" height="146.49999999999997" filter="url(#nz2)" opacity="0.19"/>
<rect x="237" y="182.4" width="34.19999999999999" height="146.49999999999997" fill="url(#hg6)" opacity="0.8"/>
<rect x="237" y="182.4" width="34.19999999999999" height="146.49999999999997" fill="url(#hg6)" filter="url(#bandf)"/>
<rect x="237" y="182.4" width="34.19999999999999" height="146.49999999999997" fill="none" stroke="#777" stroke-width="0.9"/>
<text transform="translate(28.6,252.4) rotate(-90)" font-size="7.2" text-anchor="middle" fill="#222" textLength="35.3" lengthAdjust="spacingAndGlyphs">13538 peaks</text>
<text transform="translate(157.6,251.8) rotate(-90)" font-size="7.2" text-anchor="middle" fill="#222" textLength="35" lengthAdjust="spacingAndGlyphs">22384 peaks</text>
<text x="32.9" y="336.8" font-size="6" textLength="11" lengthAdjust="spacingAndGlyphs" fill="#222">-3kb</text>
<text x="51.45" y="336.8" font-size="6" text-anchor="middle" fill="#222">0</text>
<text x="59.8" y="336.8" font-size="6" textLength="8.4" lengthAdjust="spacingAndGlyphs" fill="#222">3kb</text>
<text x="71.1" y="336.8" font-size="6" textLength="11" lengthAdjust="spacingAndGlyphs" fill="#222">-3kb</text>
<text x="89.6" y="336.8" font-size="6" text-anchor="middle" fill="#222">0</text>
<text x="97.9" y="336.8" font-size="6" textLength="8.4" lengthAdjust="spacingAndGlyphs" fill="#222">3kb</text>
<text x="109.6" y="336.8" font-size="6" textLength="11" lengthAdjust="spacingAndGlyphs" fill="#222">-3kb</text>
<text x="128.0" y="336.8" font-size="6" text-anchor="middle" fill="#222">0</text>
<text x="136.2" y="336.8" font-size="6" textLength="8.4" lengthAdjust="spacingAndGlyphs" fill="#222">3kb</text>
<text x="160.0" y="336.8" font-size="6" textLength="11" lengthAdjust="spacingAndGlyphs" fill="#222">-3kb</text>
<text x="178.55" y="336.8" font-size="6" text-anchor="middle" fill="#222">0</text>
<text x="186.9" y="336.8" font-size="6" textLength="8.4" lengthAdjust="spacingAndGlyphs" fill="#222">3kb</text>
<text x="197.9" y="336.8" font-size="6" textLength="11" lengthAdjust="spacingAndGlyphs" fill="#222">-3kb</text>
<text x="216.0" y="336.8" font-size="6" text-anchor="middle" fill="#222">0</text>
<text x="223.9" y="336.8" font-size="6" textLength="8.4" lengthAdjust="spacingAndGlyphs" fill="#222">3kb</text>
<text x="235.7" y="336.8" font-size="6" textLength="11" lengthAdjust="spacingAndGlyphs" fill="#222">-3kb</text>
<text x="254.1" y="336.8" font-size="6" text-anchor="middle" fill="#222">0</text>
<text x="262.3" y="336.8" font-size="6" textLength="8.4" lengthAdjust="spacingAndGlyphs" fill="#222">3kb</text>
<rect x="275" y="284" width="3" height="39.6" fill="url(#cb)"/>
<text x="280.2" y="285.2" font-size="3" textLength="3.0" lengthAdjust="spacingAndGlyphs" fill="#777">10</text>
<text x="280.2" y="293.09999999999997" font-size="3" fill="#777">8</text>
<text x="280.2" y="301.0" font-size="3" fill="#777">6</text>
<text x="280.2" y="308.9" font-size="3" fill="#777">4</text>
<text x="280.2" y="316.8" font-size="3" fill="#777">2</text>
<text x="280.2" y="324.7" font-size="3" fill="#777">0</text>
<text x="376.7" y="124.9" font-size="8" textLength="35.0" lengthAdjust="spacingAndGlyphs" fill="#222">H3K36me3</text>
<line x1="434.2" y1="126.8" x2="434.2" y2="199.0" stroke="#333" stroke-width="1.1"/>
<line x1="351.9" y1="126.8" x2="434.2" y2="126.8" stroke="#888" stroke-width="1.4"/>
<polyline points="352.50,197.25 353.01,197.59 353.51,197.53 354.02,197.26 354.53,197.36 355.03,197.32 355.54,197.40 356.05,197.45 356.56,197.08 357.06,197.03 357.57,197.42 358.08,197.19 358.58,197.34 359.09,196.94 359.60,197.14 360.10,197.26 360.61,196.99 361.12,197.33 361.62,197.28 362.13,196.82 362.64,196.80 363.14,197.03 363.65,197.20 364.16,196.89 364.67,196.78 365.17,196.85 365.68,196.61 366.19,196.66 366.69,196.72 367.20,196.69 367.71,196.48 368.21,196.39 368.72,196.26 369.23,196.21 369.73,195.89 370.24,195.43 370.75,195.38 371.25,194.66 371.76,194.20 372.27,193.87 372.77,194.67 373.28,195.17 373.79,195.29 374.30,195.75 374.80,196.18 375.31,196.35 375.82,196.58 376.32,196.41 376.83,196.68 377.34,196.65 377.84,196.50 378.35,196.67 378.86,196.84 379.36,196.84 379.87,196.69 380.38,196.74 380.88,196.48 381.39,196.59 381.90,196.88 382.41,196.69 382.91,196.58 383.42,196.77 383.93,196.85 384.43,196.84 384.94,196.69 385.45,196.71 385.95,196.72 386.46,196.83 386.97,196.68 387.47,196.60 387.98,196.62 388.49,196.37 389.00,196.36 389.50,196.66 390.01,196.78 390.52,196.56 391.02,196.44 391.53,196.30 392.04,196.45 392.54,196.66 393.05,196.53 393.56,196.39 394.06,196.53 394.57,196.19 395.08,196.31 395.58,196.51 396.09,196.29 396.60,196.21 397.11,196.09 397.61,196.21 398.12,196.39 398.63,195.89 399.13,196.25 399.64,196.25 400.15,196.26 400.65,196.16 401.16,196.17 401.67,196.00 402.17,196.00 402.68,195.91 403.19,195.70 403.69,196.08 404.20,195.91 404.71,195.70 405.22,195.83 405.72,195.79 406.23,195.70 406.74,195.67 407.24,195.75 407.75,195.76 408.26,195.73 408.76,195.63 409.27,195.39 409.78,195.47 410.28,195.44 410.79,195.67 411.30,195.83 411.80,195.81 412.31,195.83 412.82,198.06 413.32,197.80 413.83,198.11 414.34,195.85 414.85,195.57 415.35,195.56 415.86,195.58 416.37,195.97 416.87,195.74 417.38,195.69 417.89,195.96 418.39,195.84 418.90,195.72 419.41,195.79 419.91,195.99 420.42,195.83 420.93,195.90 421.44,196.14 421.94,196.03 422.45,195.99 422.96,196.08 423.46,195.88 423.97,196.08 424.48,196.11 424.98,196.02 425.49,196.00 426.00,196.41 426.50,196.24 427.01,196.11 427.52,196.32 428.02,196.45 428.53,196.07 429.04,196.09 429.55,196.17 430.05,196.48 430.56,196.22 431.07,196.51 431.57,196.52 432.08,196.47 432.59,196.33 433.09,196.72 433.60,196.65" fill="none" stroke="#9b9b9b" stroke-width="0.8" stroke-linejoin="round"/>
<polyline points="352.50,196.03 353.01,196.01 353.51,195.37 354.02,195.37 354.53,195.88 355.03,195.80 355.54,195.73 356.05,195.46 356.56,195.65 357.06,195.63 357.57,195.59 358.08,195.28 358.58,195.45 359.09,195.40 359.60,195.61 360.10,195.78 360.61,195.72 361.12,195.41 361.62,195.31 362.13,195.16 362.64,194.97 363.14,194.93 363.65,195.20 364.16,195.05 364.67,195.05 365.17,195.35 365.68,195.03 366.19,194.97 366.69,194.65 367.20,194.39 367.71,194.45 368.21,194.11 368.72,194.10 369.23,194.06 369.73,193.26 370.24,192.06 370.75,191.27 371.25,189.43 371.76,187.63 372.27,187.38 372.77,188.66 373.28,190.49 373.79,191.58 374.30,192.94 374.80,193.51 375.31,193.32 375.82,193.98 376.32,194.11 376.83,194.03 377.34,194.14 377.84,194.15 378.35,194.47 378.86,194.18 379.36,194.40 379.87,194.05 380.38,194.41 380.88,194.40 381.39,194.07 381.90,194.12 382.41,194.34 382.91,194.18 383.42,193.98 383.93,193.76 384.43,193.80 384.94,194.03 385.45,193.62 385.95,194.10 386.46,193.62 386.97,194.03 387.47,193.57 387.98,193.99 388.49,193.77 389.00,193.59 389.50,193.56 390.01,193.62 390.52,193.53 391.02,193.30 391.53,193.18 392.04,193.36 392.54,193.61 393.05,193.35 393.56,192.93 394.06,193.41 394.57,193.30 395.08,193.39 395.58,192.85 396.09,193.19 396.60,192.67 397.11,193.04 397.61,192.74 398.12,192.66 398.63,193.08 399.13,192.50 399.64,192.74 400.15,192.94 400.65,192.47 401.16,192.40 401.67,192.83 402.17,192.47 402.68,192.63 403.19,192.11 403.69,192.30 404.20,192.12 404.71,192.43 405.22,191.99 405.72,192.60 406.23,191.95 406.74,192.45 407.24,191.95 407.75,192.12 408.26,192.51 408.76,192.05 409.27,192.07 409.78,192.42 410.28,192.21 410.79,191.97 411.30,192.63 411.80,192.05 412.31,192.02 412.82,194.52 413.32,194.80 413.83,194.98 414.34,192.43 414.85,192.68 415.35,192.55 415.86,192.93 416.37,193.15 416.87,193.10 417.38,193.18 417.89,193.05 418.39,193.09 418.90,192.94 419.41,192.75 419.91,192.54 420.42,192.81 420.93,192.54 421.44,192.35 421.94,192.56 422.45,192.93 422.96,192.48 423.46,192.88 423.97,192.83 424.48,192.99 424.98,192.81 425.49,193.46 426.00,193.05 426.50,193.38 427.01,193.33 427.52,193.12 428.02,193.58 428.53,193.37 429.04,193.39 429.55,193.45 430.05,193.62 430.56,193.66 431.07,194.11 431.57,194.11 432.08,194.52 432.59,194.56 433.09,194.69 433.60,194.23" fill="none" stroke="#f5a227" stroke-width="0.8" stroke-linejoin="round"/>
<polyline points="352.50,192.42 353.01,192.60 353.51,192.25 354.02,192.34 354.53,192.20 355.03,191.41 355.54,191.17 356.05,191.90 356.56,191.08 357.06,190.86 357.57,191.50 358.08,190.71 358.58,190.90 359.09,190.28 359.60,190.22 360.10,189.43 360.61,189.70 361.12,189.68 361.62,189.04 362.13,188.99 362.64,188.59 363.14,187.56 363.65,187.92 364.16,187.26 364.67,186.40 365.17,185.46 365.68,185.62 366.19,184.26 366.69,183.40 367.20,182.17 367.71,180.19 368.21,178.10 368.72,174.47 369.23,170.84 369.73,165.00 370.24,158.34 370.75,149.29 371.25,138.71 371.76,131.31 372.27,130.08 372.77,136.48 373.28,145.13 373.79,154.62 374.30,161.92 374.80,167.99 375.31,172.18 375.82,175.34 376.32,177.98 376.83,179.77 377.34,181.48 377.84,182.29 378.35,183.51 378.86,184.26 379.36,185.10 379.87,185.34 380.38,185.29 380.88,186.51 381.39,187.01 381.90,187.30 382.41,187.24 382.91,187.69 383.42,187.40 383.93,188.32 384.43,188.26 384.94,188.16 385.45,188.11 385.95,189.17 386.46,189.40 386.97,188.47 387.47,189.31 387.98,188.93 388.49,188.68 389.00,188.88 389.50,189.44 390.01,189.58 390.52,188.70 391.02,189.35 391.53,188.74 392.04,189.50 392.54,189.09 393.05,189.71 393.56,189.83 394.06,189.32 394.57,189.88 395.08,189.13 395.58,188.88 396.09,189.46 396.60,188.84 397.11,189.02 397.61,189.26 398.12,189.48 398.63,188.98 399.13,188.86 399.64,189.77 400.15,189.15 400.65,189.86 401.16,189.79 401.67,189.22 402.17,189.31 402.68,189.37 403.19,189.50 403.69,189.44 404.20,189.40 404.71,189.46 405.22,189.81 405.72,189.32 406.23,189.24 406.74,189.55 407.24,189.01 407.75,189.07 408.26,189.81 408.76,189.30 409.27,189.32 409.78,188.72 410.28,189.16 410.79,189.33 411.30,188.83 411.80,189.67 412.31,189.88 412.82,191.64 413.32,192.45 413.83,192.46 414.34,190.42 414.85,189.86 415.35,190.04 415.86,189.87 416.37,188.87 416.87,188.71 417.38,189.18 417.89,189.29 418.39,188.30 418.90,188.31 419.41,188.26 419.91,187.75 420.42,187.59 420.93,187.32 421.44,187.44 421.94,187.79 422.45,187.57 422.96,187.75 423.46,188.29 423.97,187.57 424.48,188.26 424.98,188.54 425.49,188.18 426.00,188.18 426.50,188.92 427.01,188.40 427.52,188.44 428.02,188.81 428.53,189.20 429.04,188.64 429.55,188.98 430.05,189.10 430.56,189.75 431.07,189.41 431.57,189.97 432.08,189.31 432.59,189.60 433.09,190.04 433.60,190.40" fill="none" stroke="#c9343f" stroke-width="0.8" stroke-linejoin="round"/>
<text x="348.1" y="155.9" font-size="7.4" text-anchor="end" textLength="7.24" lengthAdjust="spacingAndGlyphs" fill="#222">40</text>
<line x1="348.9" y1="152.9" x2="351.9" y2="152.9" stroke="#444" stroke-width="0.6"/>
<text x="348.1" y="183.0" font-size="7.4" text-anchor="end" textLength="7.24" lengthAdjust="spacingAndGlyphs" fill="#222">20</text>
<line x1="348.9" y1="180" x2="351.9" y2="180" stroke="#444" stroke-width="0.6"/>
<text transform="translate(336.3,168) rotate(-90)" font-size="7" text-anchor="middle" fill="#222" textLength="48" lengthAdjust="spacingAndGlyphs">Normalized reads</text>
<text x="351.0" y="207.7" font-size="7.8" textLength="5.2" lengthAdjust="spacingAndGlyphs" fill="#222">-3</text>
<text x="368.5" y="207.7" font-size="7.8" textLength="11.4" lengthAdjust="spacingAndGlyphs" fill="#222">TSS</text>
<text x="432.5" y="207.7" font-size="7.8" text-anchor="middle" fill="#222">3</text>
<line x1="351.9" y1="199.0" x2="434.2" y2="199.0" stroke="#222" stroke-width="1.2"/>
<line x1="351.9" y1="126.8" x2="351.9" y2="199.0" stroke="#333" stroke-width="1.0"/>
<line x1="352.0" y1="199.0" x2="352.0" y2="202.0" stroke="#333" stroke-width="0.7"/>
<line x1="433.8" y1="199.0" x2="433.8" y2="202.0" stroke="#333" stroke-width="0.7"/>
<line x1="410" y1="132.3" x2="414.7" y2="132.3" stroke="#8a8a98" stroke-width="1.0"/>
<text x="416.3" y="135" font-size="6.6" textLength="14" lengthAdjust="spacingAndGlyphs" fill="#8a8a98">E11.5</text>
<line x1="410" y1="139.5" x2="414.7" y2="139.5" stroke="#f29c26" stroke-width="1.0"/>
<text x="416.3" y="142" font-size="6.6" textLength="14" lengthAdjust="spacingAndGlyphs" fill="#f29c26">E13.5</text>
<line x1="410" y1="147" x2="414.7" y2="147" stroke="#cc3045" stroke-width="1.0"/>
<text x="416.3" y="149.6" font-size="6.6" textLength="14" lengthAdjust="spacingAndGlyphs" fill="#cc3045">E15.5</text>
<line x1="352.3" y1="241.2" x2="432" y2="241.2" stroke="#444" stroke-width="1.0"/>
<line x1="429.7" y1="241.2" x2="429.7" y2="320.2" stroke="#333" stroke-width="0.9"/>
<line x1="352.3" y1="241.2" x2="352.3" y2="320.2" stroke="#222" stroke-width="0.9"/>
<line x1="352.3" y1="320.2" x2="432" y2="320.2" stroke="#222" stroke-width="0.9"/>
<rect x="359.8" y="314.67" width="16" height="5.53" fill="#111"/>
<rect x="359.8" y="313.88" width="16" height="0.79" fill="#e39a55"/>
<rect x="359.8" y="287.02" width="16" height="26.86" fill="#97b0d2"/>
<rect x="359.8" y="241.20" width="16" height="45.82" fill="#dc8a80"/>
<line x1="367.8" y1="320.2" x2="367.8" y2="323.2" stroke="#222" stroke-width="0.9"/>
<rect x="382.9" y="314.67" width="16" height="5.53" fill="#111"/>
<rect x="382.9" y="287.02" width="16" height="27.65" fill="#97b0d2"/>
<rect x="382.9" y="241.20" width="16" height="45.82" fill="#dc8a80"/>
<line x1="390.9" y1="320.2" x2="390.9" y2="323.2" stroke="#222" stroke-width="0.9"/>
<rect x="406.0" y="305.98" width="16" height="14.22" fill="#111"/>
<rect x="406.0" y="305.19" width="16" height="0.79" fill="#e39a55"/>
<rect x="406.0" y="279.91" width="16" height="25.28" fill="#97b0d2"/>
<rect x="406.0" y="241.20" width="16" height="38.71" fill="#dc8a80"/>
<line x1="414.0" y1="320.2" x2="414.0" y2="323.2" stroke="#222" stroke-width="0.9"/>
<line x1="348.3" y1="320.2" x2="352.3" y2="320.2" stroke="#333" stroke-width="0.7"/>
<text x="347.5" y="322.59999999999997" font-size="6.8" text-anchor="end" fill="#222">0</text>
<line x1="348.3" y1="304.4" x2="352.3" y2="304.4" stroke="#333" stroke-width="0.7"/>
<text x="347.5" y="306.79999999999995" font-size="6.8" text-anchor="end" textLength="6.81" lengthAdjust="spacingAndGlyphs" fill="#222">20</text>
<line x1="348.3" y1="288.59999999999997" x2="352.3" y2="288.59999999999997" stroke="#333" stroke-width="0.7"/>
<text x="347.5" y="290.99999999999994" font-size="6.8" text-anchor="end" textLength="6.81" lengthAdjust="spacingAndGlyphs" fill="#222">40</text>
<line x1="348.3" y1="272.8" x2="352.3" y2="272.8" stroke="#333" stroke-width="0.7"/>
<text x="347.5" y="275.2" font-size="6.8" text-anchor="end" textLength="6.81" lengthAdjust="spacingAndGlyphs" fill="#222">60</text>
<line x1="348.3" y1="257.0" x2="352.3" y2="257.0" stroke="#333" stroke-width="0.7"/>
<text x="347.5" y="259.4" font-size="6.8" text-anchor="end" textLength="6.81" lengthAdjust="spacingAndGlyphs" fill="#222">80</text>
<line x1="348.3" y1="241.2" x2="352.3" y2="241.2" stroke="#333" stroke-width="0.7"/>
<text x="347.5" y="243.6" font-size="6.8" text-anchor="end" textLength="10.21" lengthAdjust="spacingAndGlyphs" fill="#222">100</text>
<text transform="translate(335.6,284.5) rotate(-90)" font-size="8" text-anchor="middle" fill="#222" textLength="33" lengthAdjust="spacingAndGlyphs">Peaks (%)</text>
<text x="368.3" y="331.2" font-size="8" text-anchor="middle" textLength="18" lengthAdjust="spacingAndGlyphs" fill="#222">E11.5</text>
<text x="391.0" y="331.2" font-size="8" text-anchor="middle" textLength="18" lengthAdjust="spacingAndGlyphs" fill="#222">E13.5</text>
<text x="414.2" y="331.2" font-size="8" text-anchor="middle" textLength="18" lengthAdjust="spacingAndGlyphs" fill="#222">E15.5</text>
<rect x="439.2" y="240.80" width="8.6" height="4.4" fill="#b8b8b8"/>
<text x="451.7" y="245.5" font-size="7" textLength="33.79" lengthAdjust="spacingAndGlyphs" fill="#222">Downstream</text>
<rect x="439.2" y="251.42" width="8.6" height="4.4" fill="#dd8a82"/>
<text x="451.7" y="256.12" font-size="7" textLength="43.16" lengthAdjust="spacingAndGlyphs" fill="#222">Distal Intergenic</text>
<rect x="439.2" y="262.04" width="8.6" height="4.4" fill="#97b0d2"/>
<text x="451.7" y="266.74" font-size="7" textLength="29.45" lengthAdjust="spacingAndGlyphs" fill="#222">Gene body</text>
<rect x="439.2" y="272.66" width="8.6" height="4.4" fill="#e39a55"/>
<text x="451.7" y="277.36" font-size="7" textLength="12.37" lengthAdjust="spacingAndGlyphs" fill="#222">UTR</text>
<rect x="439.2" y="283.28" width="8.6" height="4.4" fill="#111"/>
<text x="451.7" y="287.98" font-size="7" textLength="24.76" lengthAdjust="spacingAndGlyphs" fill="#222">Promoter</text>
<text x="54.1" y="387.9" font-size="7.9" textLength="48.3" lengthAdjust="spacingAndGlyphs" fill="#1a1a2a" stroke="#1a1a2a" stroke-width="0.22">E13.5 vs E11.5</text>
<line x1="51" y1="391.5" x2="106" y2="391.5" stroke="#111" stroke-width="1.0"/>
<text x="119.5" y="399.4" font-size="7.0" font-weight="bold" textLength="28.8" lengthAdjust="spacingAndGlyphs" fill="#222">ATAC-seq</text>
<text x="85.3" y="407.2" font-size="7.0" textLength="86.4" lengthAdjust="spacingAndGlyphs" fill="#222">Genes with exclusive PR peaks</text>
<text x="106.7" y="414.7" font-size="7.0" textLength="46.6" lengthAdjust="spacingAndGlyphs" fill="#222">(n=5978, p&lt;0.01)</text>
<text x="49.9" y="415.1" font-size="7.2" font-weight="bold" textLength="26.2" lengthAdjust="spacingAndGlyphs" fill="#222">RNA-seq</text>
<text x="34.3" y="422.4" font-size="7.0" textLength="42.3" lengthAdjust="spacingAndGlyphs" fill="#222">DEG-UP genes</text>
<text x="21.0" y="429.3" font-size="7.0" textLength="64.9" lengthAdjust="spacingAndGlyphs" fill="#222">(n=1772, FC&gt;2, p&lt;0.05)</text>
<clipPath id="vfa"><circle cx="80.35" cy="450.6" r="19.25"/></clipPath>
<clipPath id="vfb"><circle cx="117.1" cy="450.25" r="35"/></clipPath>
<g clip-path="url(#vfa)"><g clip-path="url(#vfb)"><circle cx="92.15" cy="489" r="36.45" fill="#c3a5c2"/></g></g>
<circle cx="80.35" cy="450.6" r="19.25" fill="none" stroke="#333" stroke-width="0.8"/>
<circle cx="117.1" cy="450.25" r="35" fill="none" stroke="#333" stroke-width="0.8"/>
<circle cx="92.15" cy="489" r="36.45" fill="none" stroke="#333" stroke-width="0.8"/>
<text x="72.5" y="451" font-size="7.8" text-anchor="middle" textLength="11.19" lengthAdjust="spacingAndGlyphs" fill="#222">793</text>
<text x="89.35" y="448" font-size="7.8" text-anchor="middle" textLength="11.19" lengthAdjust="spacingAndGlyphs" fill="#222">500</text>
<text x="122.3" y="448" font-size="7.8" text-anchor="middle" textLength="14.92" lengthAdjust="spacingAndGlyphs" fill="#222">4095</text>
<text x="89.8" y="461.3" font-size="7.8" text-anchor="middle" font-weight="bold" textLength="11.19" lengthAdjust="spacingAndGlyphs" fill="#222">191</text>
<text x="78" y="465.7" font-size="7.8" text-anchor="middle" textLength="11.19" lengthAdjust="spacingAndGlyphs" fill="#222">288</text>
<text x="104.8" y="472.4" font-size="7.8" text-anchor="middle" textLength="14.43" lengthAdjust="spacingAndGlyphs" fill="#222">1192</text>
<text x="86.7" y="497.9" font-size="7.8" text-anchor="middle" textLength="14.92" lengthAdjust="spacingAndGlyphs" fill="#222">4824</text>
<text x="80.5" y="534.8" font-size="7.0" font-weight="bold" textLength="26.6" lengthAdjust="spacingAndGlyphs" fill="#222">CUT&amp;Tag</text>
<text x="31.3" y="542.5" font-size="7.0" textLength="120.4" lengthAdjust="spacingAndGlyphs" fill="#222">Genes with increased H3K36me3 GB peaks</text>
<text x="69.3" y="549.5" font-size="7.0" textLength="48.3" lengthAdjust="spacingAndGlyphs" fill="#222">(n=6495, FC&gt;1.5)</text>
<text x="215.5" y="425.0" font-size="8" text-anchor="middle" textLength="20" lengthAdjust="spacingAndGlyphs" fill="#222">GO-BP</text>
<rect x="161.29999999999998" y="431.80" width="102.50" height="6" fill="#f2a3a3"/>
<text x="162.7" y="437.3" font-size="7" textLength="64.83" lengthAdjust="spacingAndGlyphs" fill="#1a1a1a">Lipid Metabolic Process</text>
<rect x="161.29999999999998" y="441.38" width="73.90" height="6" fill="#f2a3a3"/>
<text x="162.7" y="446.88" font-size="7" textLength="68.92" lengthAdjust="spacingAndGlyphs" fill="#1a1a1a">FGFR Signaling Pathway</text>
<rect x="161.29999999999998" y="450.96" width="67.70" height="6" fill="#f2a3a3"/>
<text x="162.7" y="456.46000000000004" font-size="7" textLength="98.61" lengthAdjust="spacingAndGlyphs" fill="#1a1a1a">Neg. Reg. Of Stem Cell Proliferation</text>
<rect x="161.29999999999998" y="460.54" width="66.40" height="6" fill="#f2a3a3"/>
<text x="162.7" y="466.04" font-size="7" textLength="86.67" lengthAdjust="spacingAndGlyphs" fill="#1a1a1a">Neg. Reg. Of Apoptotic Process</text>
<rect x="161.29999999999998" y="470.12" width="64.50" height="6" fill="#f2a3a3"/>
<text x="162.7" y="475.62" font-size="7" textLength="124.22" lengthAdjust="spacingAndGlyphs" fill="#1a1a1a">Signal Transduction of Gene Expression Reg.</text>
<rect x="161.29999999999998" y="479.70" width="63.70" height="6" fill="#f2a3a3"/>
<text x="162.7" y="485.2" font-size="7" textLength="76.79" lengthAdjust="spacingAndGlyphs" fill="#1a1a1a">Protein Autophosphorylation</text>
<rect x="161.29999999999998" y="489.28" width="59.70" height="6" fill="#f2a3a3"/>
<text x="162.7" y="494.78000000000003" font-size="7" textLength="97.14" lengthAdjust="spacingAndGlyphs" fill="#1a1a1a">Neg. Reg. Of Neuron Differentiation</text>
<rect x="161.29999999999998" y="498.86" width="58.90" height="6" fill="#f2a3a3"/>
<text x="162.7" y="504.36" font-size="7" textLength="61.06" lengthAdjust="spacingAndGlyphs" fill="#1a1a1a">Cell Fate Commitment</text>
<rect x="161.29999999999998" y="508.44" width="53.00" height="6" fill="#f2a3a3"/>
<text x="162.7" y="513.94" font-size="7" textLength="89.4" lengthAdjust="spacingAndGlyphs" fill="#1a1a1a">Prostaglandin Metabolic Process</text>
<rect x="161.29999999999998" y="518.02" width="47.10" height="6" fill="#f2a3a3"/>
<text x="162.7" y="523.52" font-size="7" textLength="37.54" lengthAdjust="spacingAndGlyphs" fill="#1a1a1a">Cell Adhesion</text>
<line x1="160.7" y1="428" x2="160.7" y2="528" stroke="#333" stroke-width="0.8"/>
<line x1="160.7" y1="528" x2="275.9" y2="528" stroke="#333" stroke-width="0.8"/>
<line x1="160.7" y1="528" x2="160.7" y2="529.8" stroke="#333" stroke-width="0.6"/>
<text x="160.7" y="537.4" font-size="7" text-anchor="middle" fill="#222">0</text>
<line x1="199.1" y1="528" x2="199.1" y2="529.8" stroke="#333" stroke-width="0.6"/>
<text x="199.1" y="537.4" font-size="7" text-anchor="middle" fill="#222">1</text>
<line x1="237.5" y1="528" x2="237.5" y2="529.8" stroke="#333" stroke-width="0.6"/>
<text x="237.5" y="537.4" font-size="7" text-anchor="middle" fill="#222">2</text>
<line x1="275.9" y1="528" x2="275.9" y2="529.8" stroke="#333" stroke-width="0.6"/>
<text x="275.9" y="537.4" font-size="7" text-anchor="middle" fill="#222">3</text>
<text x="221.2" y="544.1" font-size="8" text-anchor="middle" fill="#222" textLength="37" lengthAdjust="spacingAndGlyphs">-lg (<tspan font-style="italic">p</tspan> value)</text>
<text x="337.7" y="385.6" font-size="7.9" textLength="48.3" lengthAdjust="spacingAndGlyphs" fill="#1a1a2a" stroke="#1a1a2a" stroke-width="0.22">E15.5 vs E13.5</text>
<line x1="332.4" y1="388.5" x2="386.7" y2="388.5" stroke="#111" stroke-width="1.0"/>
<text x="415.8" y="395.8" font-size="7.0" font-weight="bold" textLength="29.2" lengthAdjust="spacingAndGlyphs" fill="#222">ATAC-seq</text>
<text x="382.5" y="403.8" font-size="7.0" textLength="86.2" lengthAdjust="spacingAndGlyphs" fill="#222">Genes with exclusive PR peaks</text>
<text x="403.7" y="411.3" font-size="7.0" textLength="47.1" lengthAdjust="spacingAndGlyphs" fill="#222">(n=4586, p&lt;0.01)</text>
<text x="338.3" y="412.5" font-size="7.2" font-weight="bold" textLength="25.9" lengthAdjust="spacingAndGlyphs" fill="#222">RNA-seq</text>
<text x="327.5" y="419.7" font-size="7.0" textLength="42.3" lengthAdjust="spacingAndGlyphs" fill="#222">DEG-UP genes</text>
<text x="313.7" y="426.7" font-size="7.0" textLength="65.5" lengthAdjust="spacingAndGlyphs" fill="#222">(n=1026, FC&gt;2, p&lt;0.05)</text>
<clipPath id="vga"><circle cx="366.2" cy="444" r="15.7"/></clipPath>
<clipPath id="vgb"><circle cx="403.3" cy="444.5" r="32.1"/></clipPath>
<g clip-path="url(#vga)"><g clip-path="url(#vgb)"><circle cx="381.15" cy="482.5" r="40.1" fill="#c3a5c2"/></g></g>
<circle cx="366.2" cy="444" r="15.7" fill="none" stroke="#333" stroke-width="0.8"/>
<circle cx="403.3" cy="444.5" r="32.1" fill="none" stroke="#333" stroke-width="0.8"/>
<circle cx="381.15" cy="482.5" r="40.1" fill="none" stroke="#333" stroke-width="0.8"/>
<text x="361.3" y="441.7" font-size="7.8" text-anchor="middle" textLength="11.19" lengthAdjust="spacingAndGlyphs" fill="#222">521</text>
<text x="375.8" y="441.7" font-size="7.8" text-anchor="middle" textLength="11.19" lengthAdjust="spacingAndGlyphs" fill="#222">135</text>
<text x="407.8" y="438.6" font-size="7.8" text-anchor="middle" textLength="14.92" lengthAdjust="spacingAndGlyphs" fill="#222">3020</text>
<text x="376.2" y="450.3" font-size="7.8" text-anchor="middle" font-weight="bold" textLength="11.19" lengthAdjust="spacingAndGlyphs" fill="#222">131</text>
<text x="364.2" y="455" font-size="7.8" text-anchor="middle" textLength="11.19" lengthAdjust="spacingAndGlyphs" fill="#222">239</text>
<text x="395" y="462.3" font-size="7.8" text-anchor="middle" textLength="14.92" lengthAdjust="spacingAndGlyphs" fill="#222">1300</text>
<text x="377" y="490.6" font-size="7.8" text-anchor="middle" textLength="14.92" lengthAdjust="spacingAndGlyphs" fill="#222">5107</text>
<text x="370.5" y="530.5" font-size="7.0" font-weight="bold" textLength="24.5" lengthAdjust="spacingAndGlyphs" fill="#222">CUT&amp;Tag</text>
<text x="322.0" y="538.2" font-size="7.0" textLength="120.2" lengthAdjust="spacingAndGlyphs" fill="#222">Genes with increased H3K36me3 GB peaks</text>
<text x="358.2" y="544.5" font-size="7.0" textLength="48.5" lengthAdjust="spacingAndGlyphs" fill="#222">(n=6777, FC&gt;1.5)</text>
<text x="498.6" y="423.0" font-size="8" text-anchor="middle" textLength="20" lengthAdjust="spacingAndGlyphs" fill="#222">GO-BP</text>
<rect x="446.3" y="430.70" width="84.60" height="6" fill="#f2a3a3"/>
<text x="447.7" y="436.2" font-size="7" textLength="143.29" lengthAdjust="spacingAndGlyphs" fill="#1a1a1a">Pos. Reg Of Transcription From RNA Pol II Promoter</text>
<rect x="446.3" y="440.22" width="80.80" height="6" fill="#f2a3a3"/>
<text x="447.7" y="445.71999999999997" font-size="7" textLength="59.61" lengthAdjust="spacingAndGlyphs" fill="#1a1a1a">Response To Hypoxia</text>
<rect x="446.3" y="449.74" width="75.70" height="6" fill="#f2a3a3"/>
<text x="447.7" y="455.24" font-size="7" textLength="65.17" lengthAdjust="spacingAndGlyphs" fill="#1a1a1a">Cytoplasmic Translation</text>
<rect x="446.3" y="459.26" width="69.40" height="6" fill="#f2a3a3"/>
<text x="447.7" y="464.76" font-size="7" textLength="25.59" lengthAdjust="spacingAndGlyphs" fill="#1a1a1a">Digestion</text>
<rect x="446.3" y="468.78" width="62.60" height="6" fill="#f2a3a3"/>
<text x="447.7" y="474.28" font-size="7" textLength="49.48" lengthAdjust="spacingAndGlyphs" fill="#1a1a1a">Apoptotic Process</text>
<rect x="446.3" y="478.30" width="58.80" height="6" fill="#f2a3a3"/>
<text x="447.7" y="483.79999999999995" font-size="7" textLength="50.16" lengthAdjust="spacingAndGlyphs" fill="#1a1a1a">Cell-Cell Adhesion</text>
<rect x="446.3" y="487.82" width="57.40" height="6" fill="#f2a3a3"/>
<text x="447.7" y="493.32" font-size="7" textLength="30.02" lengthAdjust="spacingAndGlyphs" fill="#1a1a1a">Proteolysis</text>
<rect x="446.3" y="497.34" width="46.60" height="6" fill="#f2a3a3"/>
<text x="447.7" y="502.84" font-size="7" textLength="104.77" lengthAdjust="spacingAndGlyphs" fill="#1a1a1a">Hormone-Mediated Signaling Pathway</text>
<rect x="446.3" y="506.86" width="40.80" height="6" fill="#f2a3a3"/>
<text x="447.7" y="512.36" font-size="7" textLength="72.68" lengthAdjust="spacingAndGlyphs" fill="#1a1a1a">Pancreatic Juice Secretion</text>
<rect x="446.3" y="516.38" width="38.00" height="6" fill="#f2a3a3"/>
<text x="447.7" y="521.88" font-size="7" textLength="68.25" lengthAdjust="spacingAndGlyphs" fill="#1a1a1a">Notch Signaling Pathway</text>
<line x1="445.7" y1="427" x2="445.7" y2="524.9" stroke="#333" stroke-width="0.8"/>
<line x1="445.7" y1="524.9" x2="560.1" y2="524.9" stroke="#333" stroke-width="0.8"/>
<line x1="445.7" y1="524.9" x2="445.7" y2="526.6999999999999" stroke="#333" stroke-width="0.6"/>
<text x="445.7" y="534.3" font-size="7" text-anchor="middle" fill="#222">0</text>
<line x1="474.3" y1="524.9" x2="474.3" y2="526.6999999999999" stroke="#333" stroke-width="0.6"/>
<text x="474.3" y="534.3" font-size="7" text-anchor="middle" fill="#222">1</text>
<line x1="502.9" y1="524.9" x2="502.9" y2="526.6999999999999" stroke="#333" stroke-width="0.6"/>
<text x="502.9" y="534.3" font-size="7" text-anchor="middle" fill="#222">2</text>
<line x1="531.5" y1="524.9" x2="531.5" y2="526.6999999999999" stroke="#333" stroke-width="0.6"/>
<text x="531.5" y="534.3" font-size="7" text-anchor="middle" fill="#222">3</text>
<line x1="560.1" y1="524.9" x2="560.1" y2="526.6999999999999" stroke="#333" stroke-width="0.6"/>
<text x="560.1" y="534.3" font-size="7" text-anchor="middle" fill="#222">4</text>
<text x="511.4" y="542" font-size="8" text-anchor="middle" fill="#222" textLength="37" lengthAdjust="spacingAndGlyphs">-lg (<tspan font-style="italic">p</tspan> value)</text>
</svg>
</body></html>
